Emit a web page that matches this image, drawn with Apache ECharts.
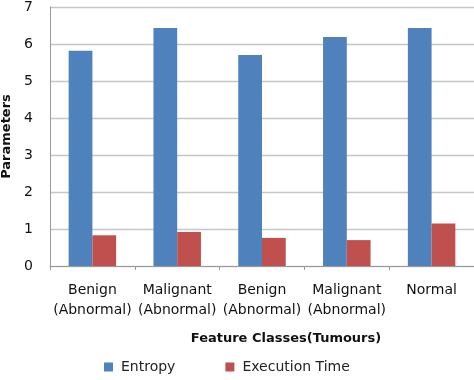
<!DOCTYPE html>
<html><head><meta charset="utf-8">
<script src="https://cdn.jsdelivr.net/npm/echarts@6/dist/echarts.min.js"></script>
<style>html,body{margin:0;padding:0;background:#fff}#c{width:474px;height:380px}</style>
</head><body><div id="c"></div>
<script>
const categories = ["Benign\n(Abnormal)", "Malignant\n(Abnormal)", "Benign\n(Abnormal)", "Malignant\n(Abnormal)", "Normal"];
const entropy = [5.82, 6.43, 5.70, 6.19, 6.43];
const executionTime = [0.83, 0.92, 0.76, 0.70, 1.15];
const yTicks = [0, 1, 2, 3, 4, 5, 6, 7];

const font = "DejaVu Sans";
const chart = echarts.init(document.getElementById('c'), null, {renderer: 'canvas'});
chart.setOption({
  animation: false,
  backgroundColor: '#fff',
  title: {
    text: 'Feature Classes(Tumours)',
    left: 281, top: 327, textAlign: 'center',
    textStyle: {fontFamily: font, fontSize: 13, fontWeight: 'bold', color: '#111'}
  },
  legend: {
    left: 104, top: 360, padding: 0,
    itemWidth: 9, itemHeight: 9, itemGap: 50,
    icon: 'rect',
    textStyle: {fontFamily: font, fontSize: 14, color: '#222', padding: [0, 0, 0, 3]},
    data: ['Entropy', 'Execution Time']
  },
  grid: {left: 50, right: 0, top: 7, bottom: 114, containLabel: false, outerBoundsMode: 'none'},
  xAxis: {
    type: 'category',
    data: categories,
    axisLine: {lineStyle: {color: '#9a9a9a'}},
    axisTick: {show: true, length: 4, lineStyle: {color: '#9a9a9a'}},
    axisLabel: {interval: 0, fontFamily: font, fontSize: 14, color: '#111', lineHeight: 20, margin: 14}
  },
  yAxis: {
    type: 'value',
    min: yTicks[0], max: yTicks[yTicks.length - 1], interval: 1,
    name: 'Parameters',
    nameLocation: 'middle', nameGap: 35,
    nameTextStyle: {fontFamily: font, fontSize: 13, fontWeight: 'bold', color: '#111'},
    axisLine: {show: true, lineStyle: {color: '#9a9a9a'}},
    axisTick: {show: false},
    splitLine: {lineStyle: {color: '#c6c6c6', width: 1.3}},
    axisLabel: {fontFamily: font, fontSize: 14, color: '#111', margin: 17}
  },
  series: [
    {name: 'Entropy', type: 'bar', data: entropy, barGap: '0%', barCategoryGap: '44%',
     itemStyle: {color: '#4F81BD'}},
    {name: 'Execution Time', type: 'bar', data: executionTime,
     itemStyle: {color: '#C0504D'}}
  ]
});
</script></body></html>
